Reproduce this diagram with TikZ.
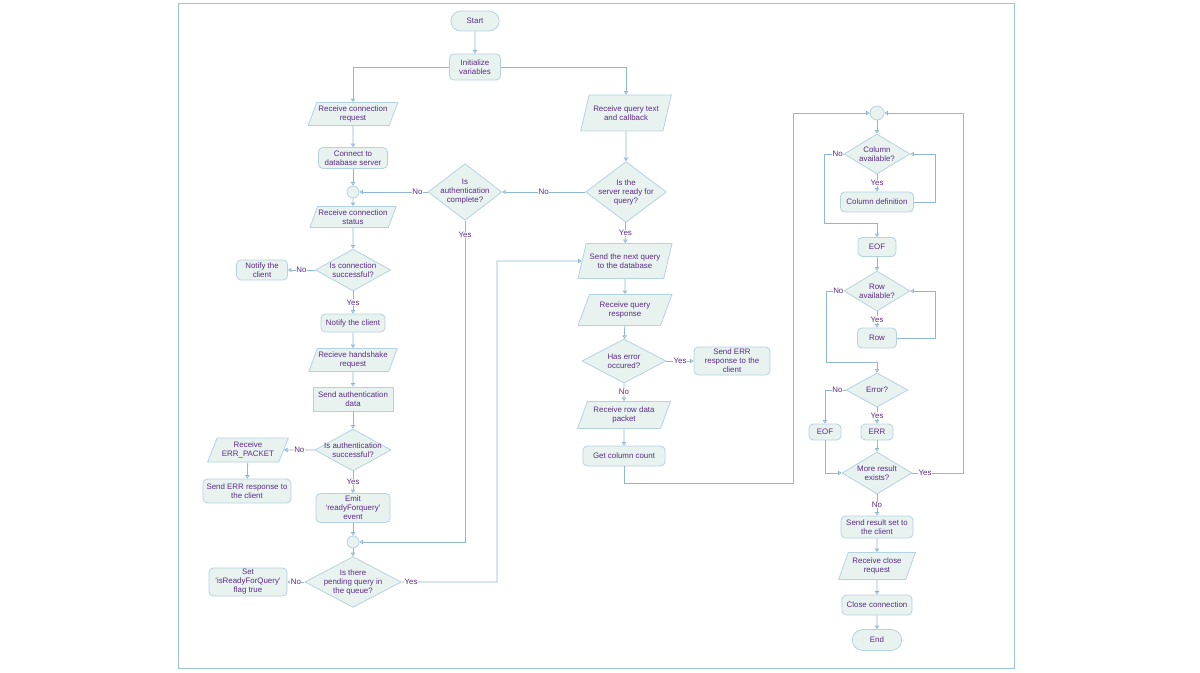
\documentclass[tikz,border=0pt]{standalone}
\usepackage{fontspec}
\setmainfont{Liberation Sans}
\usetikzlibrary{arrows.meta, positioning, shapes.geometric, shapes.misc, calc}

\definecolor{boxfill}{HTML}{E8F3F0}
\definecolor{boxline}{HTML}{B4D2E2}
\definecolor{flowline}{HTML}{8FB6D3}
\definecolor{flowtext}{HTML}{5B2A86}
\definecolor{framecol}{HTML}{9CC3DD}

\tikzset{
  base/.style={draw=boxline, fill=boxfill, text=flowtext, align=center, line width=0.9pt, inner sep=1pt},
  wh/.style 2 args={minimum width=#1*0.4mm, minimum height=#2*0.4mm},
  term/.style={base, rounded rectangle},
  proc/.style={base, rounded corners=5pt},
  sqbox/.style={base},
  inout/.style={base, trapezium, trapezium left angle=65, trapezium right angle=115, trapezium stretches=true},
  decide/.style={base, diamond, inner sep=-2pt, aspect=1.8},
  joint/.style={base, circle, inner sep=0pt, minimum size=12*0.4mm},
  flow/.style={draw=flowline, line width=0.9pt, -{Triangle[open, length=4pt, width=5pt]}},
  lbl/.style={fill=white, text=flowtext, inner sep=0.5pt}
}

\begin{document}
\begin{tikzpicture}[x=0.4mm, y=-0.4mm, font=\fontsize{9}{10.2}\selectfont]
\useasboundingbox (0,0) rectangle (1200,673);
\draw[framecol, line width=0.9pt] (178,3) rectangle (1014,668);

% Start and setup
\node[term, wh={50}{20}] (start) at (475,21) {Start};
\node[proc, wh={51}{26}] (init) at (475,67) {Initialize\\variables};

% Connection branch
\node[inout, wh={90}{23}] (recvconn) at (353,114) {Receive connection\\request};
\node[proc, wh={69}{21}] (connect) at (353,158) {Connect to\\database server};
\node[joint] (j1) at (353,192) {};
\node[inout, wh={86}{21}] (recvstat) at (353,217) {Receive connection\\status};
\node[decide, wh={75}{42}] (connok) at (353,270) {Is connection\\successful?};
\node[proc, wh={51}{20}] (notify1) at (262,270) {Notify the\\client};
\node[proc, wh={64}{18}] (notify2) at (353,323) {Notify the client};
\node[inout, wh={89}{23}] (handshake) at (353,360) {Recieve handshake\\request};
\node[sqbox, wh={80}{24}] (sendauth) at (353,399) {Send authentication\\data};
\node[decide, wh={76}{42}] (authok) at (353,450) {Is authentication\\successful?};
\node[inout, wh={81}{24}] (errpkt) at (248,450) {Receive\\ERR\_PACKET};
\node[proc, wh={88}{24}] (senderr1) at (247,491) {Send ERR response to\\the client};
\node[proc, wh={74}{29}] (emit) at (353,508) {Emit\\`readyForquery'\\event};
\node[joint] (j2) at (353,542) {};
\node[decide, aspect=1.9, wh={92}{48}] (pending) at (353,582) {Is there\\pending query in\\the queue?};
\node[proc, wh={78}{28}] (setflag) at (248,582) {Set\\`isReadyForQuery'\\flag true};
\node[decide, aspect=1.3, wh={72}{56}] (authdone) at (465,192) {Is\\authentication\\complete?};

% Query branch
\node[inout, wh={91}{36}] (recvq) at (626,113) {Receive query text\\and callback};
\node[decide, aspect=1.33, wh={80}{60}] (ready) at (626,192) {Is the\\server ready for\\query?};
\node[inout, wh={95}{35}] (sendq) at (625,261) {Send the next query\\to the database};
\node[inout, wh={94}{31}] (recvresp) at (625,310) {Receive query\\response};
\node[decide, wh={84}{44}] (haserr) at (624,361) {Has error\\occured?};
\node[proc, wh={76}{28}] (senderr2) at (732,361) {Send ERR\\response to the\\client};
\node[inout, wh={93}{27}] (rowpkt) at (624,415) {Receive row data\\packet};
\node[proc, wh={82}{20}] (colcount) at (624,456) {Get column count};

% Result set loop
\node[joint, minimum size=14*0.4mm] (j3) at (877,113) {};
\node[decide, aspect=1.65, wh={66}{40}] (colavail) at (877,154) {Column\\available?};
\node[proc, wh={73}{20}] (coldef) at (877,202) {Column definition};
\node[proc, wh={38}{19}] (eof1) at (877,247) {EOF};
\node[decide, aspect=1.65, wh={66}{40}] (rowavail) at (877,291) {Row\\available?};
\node[proc, wh={39}{20}] (row) at (877,338) {Row};
\node[decide, wh={62}{34}] (errq) at (877,390) {Error?};
\node[proc, wh={32}{16}] (err) at (877,432) {ERR};
\node[proc, wh={32}{16}] (eof2) at (825,432) {EOF};
\node[decide, aspect=1.67, wh={70}{42}] (more) at (877,473) {More result\\exists?};
\node[proc, wh={72}{22}] (sendres) at (877,527) {Send result set to\\the client};
\node[inout, wh={77}{27}] (recvclose) at (877,566) {Receive close\\request};
\node[proc, wh={70}{20}] (close) at (877,605) {Close connection};
\node[term, wh={51}{21}] (end) at (877,640) {End};

% bend points
\coordinate (loopL) at (497,261);
\coordinate (loopR) at (793,483);
\coordinate (moreR) at (963,473);
\coordinate (cskip) at (824,223);
\coordinate (cback) at (935,154);
\coordinate (rskip) at (826,362);
\coordinate (rback) at (935,291);

% left column
\draw[flow] (start) -- (init);
\draw[flow] (init.west) -| (recvconn.north);
\draw[flow] (init.east) -| (recvq.north);
\draw[flow] (recvconn) -- (connect);
\draw[flow] (connect) -- (j1);
\draw[flow] (j1) -- (recvstat);
\draw[flow] (recvstat) -- (connok);
\draw[flow] (connok) -- node[lbl]{No} (notify1);
\draw[flow] (connok) -- node[lbl]{Yes} (notify2);
\draw[flow] (notify2) -- (handshake);
\draw[flow] (handshake) -- (sendauth);
\draw[flow] (sendauth) -- (authok);
\draw[flow] (authok) -- node[lbl]{No} (errpkt);
\draw[flow] (errpkt) -- (senderr1);
\draw[flow] (authok) -- node[lbl]{Yes} (emit);
\draw[flow] (emit) -- (j2);
\draw[flow] (j2) -- (pending);
\draw[flow] (pending) -- node[lbl]{No} (setflag);
\draw[flow] (pending.east) -| node[lbl, pos=0.05]{Yes} (loopL) -- (sendq.west);
\draw[flow] (authdone.west) -- node[lbl, pos=0.15]{No} (j1.east);
\draw[flow] (authdone.south) |- node[lbl, pos=0.022]{Yes} (j2.east);

% middle column
\draw[flow] (recvq) -- (ready);
\draw[flow] (ready.west) -- node[lbl]{No} (authdone.east);
\draw[flow] (ready) -- node[lbl]{Yes} (sendq);
\draw[flow] (sendq) -- (recvresp);
\draw[flow] (recvresp) -- (haserr);
\draw[flow] (haserr) -- node[lbl]{Yes} (senderr2);
\draw[flow] (haserr) -- node[lbl]{No} (rowpkt);
\draw[flow] (rowpkt) -- (colcount);
\draw[flow] (colcount.south) |- (loopR) |- (j3.west);

% right column
\draw[flow] (j3) -- (colavail);
\draw[flow] (colavail.west) -| node[lbl, pos=0.15]{No} (cskip) -| (eof1.north);
\draw[flow] (colavail) -- node[lbl]{Yes} (coldef);
\draw[flow] (coldef.east) -| (cback) -- (colavail.east);
\draw[flow] (eof1) -- (rowavail);
\draw[flow] (rowavail.west) -| node[lbl, pos=0.15]{No} (rskip) -| (errq.north);
\draw[flow] (rowavail) -- node[lbl]{Yes} (row);
\draw[flow] (row.east) -| (rback) -- (rowavail.east);
\draw[flow] (errq) -- node[lbl]{Yes} (err);
\draw[flow] (errq.west) -| node[lbl, pos=0.2]{No} (eof2.north);
\draw[flow] (err) -- (more);
\draw[flow] (eof2.south) |- (more.west);
\draw[flow] (more.east) -- node[lbl, pos=0.25]{Yes} (moreR) |- (j3.east);
\draw[flow] (more) -- node[lbl]{No} (sendres);
\draw[flow] (sendres) -- (recvclose);
\draw[flow] (recvclose) -- (close);
\draw[flow] (close) -- (end);
\end{tikzpicture}
\end{document}
